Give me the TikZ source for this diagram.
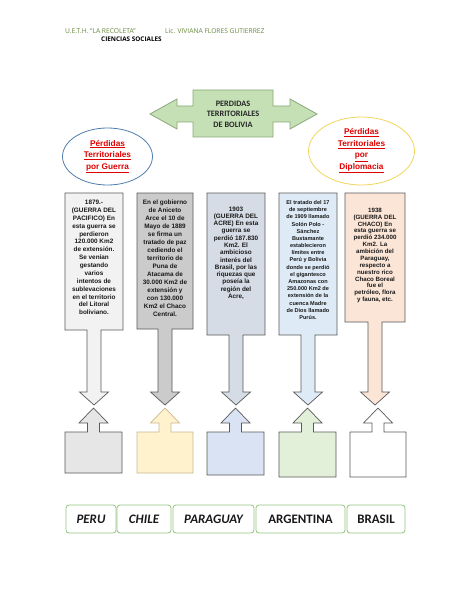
\documentclass[tikz,border=0pt]{standalone}
\usepackage{fontspec}
\setmainfont{Liberation Sans}
\newfontfamily\calib{Carlito}
\newfontfamily\hdr{Open Sans}
\usetikzlibrary{shapes.geometric}
\definecolor{tA}{HTML}{F2F2F2}
\definecolor{tB}{HTML}{CBCBCB}
\definecolor{tC}{HTML}{D6DCE5}
\definecolor{tD}{HTML}{DEEBF7}
\definecolor{tE}{HTML}{FBE5D6}
\definecolor{lA}{HTML}{E7E6E6}
\definecolor{lB}{HTML}{FFF2CC}
\definecolor{lC}{HTML}{DAE3F3}
\definecolor{lD}{HTML}{E2F0D9}
\definecolor{lE}{HTML}{FFFFFF}
\definecolor{outl}{HTML}{595959}
\definecolor{tan}{HTML}{C9B98E}
\definecolor{grfill}{HTML}{C5E0B4}
\definecolor{grline}{HTML}{8AA87A}
\definecolor{hdrgreen}{HTML}{668A3C}
\definecolor{redt}{HTML}{E00000}
\definecolor{blueline}{HTML}{4F7FAE}
\definecolor{yelline}{HTML}{F2D65C}
\definecolor{cbox}{HTML}{93C47D}
\tikzset{
  callout/.style={draw=outl, line width=0.7pt, line join=miter},
  boxtext/.style={align=center, text=black!90, inner sep=0pt},
  ovaltext/.style={ellipse, align=center, font=\fontsize{8.3}{11.5}\selectfont\bfseries, text=redt, line width=0.8pt, fill=white},
  country/.style={draw=cbox, line width=0.8pt, rounded corners=3pt, fill=white, minimum height=28bp, inner sep=0pt, font=\calib\fontsize{13}{14}\selectfont\bfseries, text=black!90}
}
% down callout: name, x1, x2, y1, y2, fill, font, text, yshift
\newcommand\dcall[9]{%
  \pgfmathsetmacro\cx{(#2+#3)/2}%
  \pgfmathsetmacro\cy{(#4+#5)/2+#9}%
  \draw[callout,fill=#6] (#2,#4) -- (#3,#4) -- (#3,#5) -- (\cx+7,#5) -- (\cx+7,392) -- (\cx+14.5,392) -- (\cx,405) -- (\cx-14.5,392) -- (\cx-7,392) -- (\cx-7,#5) -- (#2,#5) -- cycle;
  \node[boxtext,font=#7] (#1) at (\cx,\cy) {#8};
}
% up callout: name, x1, x2, y2, fill, draw
\newcommand\ucall[6]{%
  \pgfmathsetmacro\cx{(#2+#3)/2}%
  \pgfmathsetmacro\cy{(432+#4)/2}%
  \draw[callout,draw=#6,fill=#5] (#2,432) -- (\cx-6,432) -- (\cx-6,423) -- (\cx-14.5,423) -- (\cx,408) -- (\cx+14.5,423) -- (\cx+6,423) -- (\cx+6,432) -- (#3,432) -- (#3,#4) -- (#2,#4) -- cycle;
  \coordinate (#1) at (\cx,\cy);
}
\begin{document}
\begin{tikzpicture}[x=1bp,y=-1bp]
\useasboundingbox[fill=white] (0,0) rectangle (474,611);
% header
\node[anchor=base west, inner sep=0pt, font=\hdr\fontsize{6.7}{7}\selectfont, text=hdrgreen] (h1) at (65,34) {U.E.T.H. “LA RECOLETA”};
\node[anchor=base west, inner sep=0pt, font=\hdr\fontsize{6.7}{7}\selectfont, text=hdrgreen] (h2) at (165,34) {Lic. VIVIANA FLORES GUTIERREZ};
\node[anchor=base west, inner sep=0pt, font=\hdr\fontsize{6.4}{7}\selectfont\bfseries, text=black] (h3) at (101,42) {CIENCIAS SOCIALES};
% central double arrow
\draw[draw=grline, fill=grfill, line width=0.8pt, line join=miter]
  (193,90) -- (273,90) -- (273,106) -- (290,106) -- (290,99) -- (317,114) -- (290,129) -- (290,122) -- (273,122) -- (273,137) -- (193,137) -- (193,122) -- (177,122) -- (177,129) -- (150,114) -- (177,99) -- (177,106) -- (193,106) -- cycle;
\node[align=center, inner sep=0pt, font=\calib\fontsize{8.3}{10.5}\selectfont\bfseries, text=black!85] (title) at (233,114) {PERDIDAS\\TERRITORIALES\\DE BOLIVIA};
% ovals
\node[ovaltext, draw=blueline, minimum width=90bp, minimum height=57bp, inner sep=0pt] (guerra) at (107.5,156.5) {\underline{Pérdidas}\\\underline{Territoriales}\\\underline{por Guerra}};
\node[ovaltext, draw=yelline, minimum width=106bp, minimum height=68bp, inner sep=0pt] (diplo) at (361.5,151) {\underline{Pérdidas}\\\underline{Territoriales}\\\underline{por}\\\underline{Diplomacia}};
% down callouts
\dcall{c1}{65}{123}{193}{330}{tA}{\fontsize{6.4}{7.9}\selectfont\bfseries}{1879.-\\(GUERRA DEL\\PACIFICO) En\\esta guerra se\\perdieron\\120.000 Km2\\de extensión.\\Se venían\\gestando\\varios\\intentos de\\sublevaciones\\en el territorio\\del Litoral\\boliviano.}{-4}
\dcall{c2}{137}{193}{193}{329}{tB}{\fontsize{6.4}{8.0}\selectfont\bfseries}{En el gobierno\\de Aniceto\\Arce el 10 de\\Mayo de 1889\\se firma un\\tratado de paz\\cediendo el\\territorio de\\Puna de\\Atacama de\\30.000 Km2 de\\extensión y\\con 130.000\\Km2 el Chaco\\Central.}{-3}
\dcall{c3}{207}{265}{193}{335}{tC}{\fontsize{6.4}{7.3}\selectfont\bfseries}{1903\\(GUERRA DEL\\ACRE) En esta\\guerra se\\perdió 187.830\\Km2. El\\ambicioso\\interés del\\Brasil, por las\\riquezas que\\poseía la\\región del\\Acre,}{-11}
\dcall{c4}{279}{337}{193}{335}{tD}{\fontsize{5.6}{7.2}\selectfont\bfseries}{El tratado del 17\\de septiembre\\de 1909 llamado\\Solón Polo -\\Sánchez\\Bustamante\\establecieron\\límites entre\\Perú y Bolivia\\donde se perdió\\el gigantesco\\Amazonas con\\250.000 Km2 de\\extensión de la\\cuenca Madre\\de Dios llamado\\Purús.}{-4}
\dcall{c5}{345}{405}{193}{322}{tE}{\fontsize{6.2}{6.9}\selectfont\bfseries}{1938\\(GUERRA DEL\\CHACO) En\\esta guerra se\\perdió 234.000\\Km2. La\\ambición del\\Paraguay,\\respecto a\\nuestro rico\\Chaco Boreal\\fue el\\petróleo, flora\\y fauna, etc.}{-2}
% up callouts
\ucall{u1}{65}{122}{473}{lA}{outl}
\ucall{u2}{137}{193}{473}{lB}{tan}
\ucall{u3}{207}{264}{475}{lC}{outl}
\ucall{u4}{279}{336}{477}{lD}{outl}
\ucall{u5}{350}{406}{477}{lE}{outl}
% countries
\node[country, minimum width=50bp] (peru) at (91,519) {\itshape PERU};
\node[country, minimum width=54bp] (chile) at (144,519) {\itshape CHILE};
\node[country, minimum width=81bp] (paraguay) at (213.5,519) {\itshape PARAGUAY};
\node[country, minimum width=89bp] (argentina) at (300.5,519) {ARGENTINA};
\node[country, minimum width=58bp] (brasil) at (376,519) {BRASIL};
\end{tikzpicture}
\end{document}
